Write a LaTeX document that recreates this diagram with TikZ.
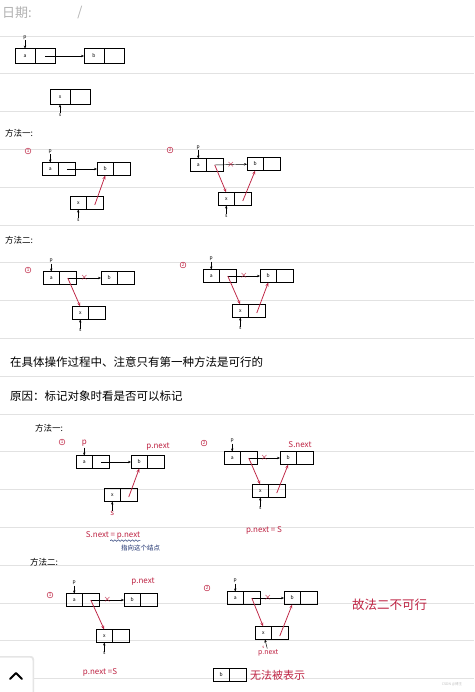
\documentclass[tikz,border=0pt]{standalone}
\usepackage{fontspec}
\setmainfont{Noto Sans CJK SC}
\usetikzlibrary{positioning,arrows.meta,decorations.pathmorphing}

\definecolor{ink}{RGB}{190,34,66}
\definecolor{blueink}{RGB}{28,48,110}
\definecolor{rulegray}{RGB}{226,226,226}

\tikzset{
	cell/.style={draw,line width=0.6pt,minimum width=16.5pt,minimum height=13pt,inner sep=0pt,outer sep=0pt,font=\fontsize{5}{5}\selectfont},
	bigcell/.style={cell,minimum width=20pt,minimum height=15pt},
	ptr/.style={font=\fontsize{5}{5}\selectfont,inner sep=0.5pt},
	link/.style={-{Stealth[length=3pt,width=2.4pt]},line width=0.45pt},
	redlink/.style={-{Stealth[length=4pt,width=3pt]},ink,line width=0.75pt},
	cross/.style={ink,font=\fontsize{7.5}{7.5}\selectfont,inner sep=0pt},
	num/.style={ink,circle,draw,line width=0.5pt,inner sep=0.6pt,font=\fontsize{4.5}{4.5}\selectfont},
	title/.style={anchor=west,inner sep=0pt,font=\fontsize{8.5}{9}\selectfont},
	note/.style={anchor=west,inner sep=0pt,font=\fontsize{11.5}{12}\selectfont},
	rednote/.style={note,ink},
	redlab/.style={ink,inner sep=0pt,font=\fontsize{8}{8}\selectfont},
	bluelab/.style={blueink,inner sep=0pt,font=\fontsize{6.5}{7}\selectfont},
	head/.style={gray!60,inner sep=0pt,font=\fontsize{13}{13}\selectfont}
}

\newcommand{\lbox}[5][cell]{
	\node[#1,anchor=west] (#2) at (#3,#4) {#5};
	\node[#1,right=0pt of #2] (#2n) {};
}
\newcommand{\ptrup}[4][]{
	\node[ptr,#1,above=8pt of #2] (#3) {#4};
	\draw[link] (#3) -- (#2);
}
\newcommand{\ptrdown}[4][]{
	\node[ptr,#1,below=9pt of #2] (#3) {#4};
	\draw[link] (#3) -- (#2);
}

\begin{document}
\begin{tikzpicture}[x=1pt,y=-1pt]
\useasboundingbox (0,0) rectangle (474,692);
\fill[white] (0,0) rectangle (474,692);

\foreach \i in {0,...,17}{
	\pgfmathsetmacro{\ry}{36+37.8*\i}
	\draw[rulegray,line width=0.8pt] (0,\ry) -- (474,\ry);
}
\node[head,anchor=west] (date) at (2,13) {日期:};
\node[head] (slash) at (80,13) {/};

\lbox[bigcell]{a1}{15}{56}{a}
\lbox[bigcell]{b1}{84}{56}{b}
\lbox[bigcell]{x1}{50}{97}{x}
\ptrup{a1}{p1}{p}
\ptrdown{x1}{s1}{s}
\draw[link] (a1n.center) -- (b1);

% fang fa yi
\node[title] (m1) at (5,133) {方法一:};
\node[num] (n1) at (28,151) {1};
\lbox{a2}{42}{169}{a}
\lbox{b2}{97}{169}{b}
\lbox{x2}{70}{203}{x}
\ptrup{a2}{p2}{p}
\ptrdown{x2}{s2}{s}
\draw[link] (a2n.center) -- (b2);
\draw[redlink] ([yshift=-2pt]x2n.center) -- (b2.south);

\node[num] (n2) at (170,150) {2};
\lbox{a3}{190}{165}{a}
\lbox{b3}{247}{164}{b}
\lbox{x3}{218}{199}{x}
\ptrup{a3}{p3}{p}
\ptrdown{x3}{s3}{s}
\draw[link] (a3n.center) -- node[cross] (c3) {×} (b3);
\draw[redlink] (a3n.center) -- (x3.north);
\draw[redlink] ([yshift=-2pt]x3n.center) -- (b3.south);

% fang fa er
\node[title] (m2) at (5,240) {方法二:};
\node[num] (n3) at (28,270) {1};
\lbox{a4}{43}{278}{a}
\lbox{b4}{101}{278}{b}
\lbox{x4}{72}{313}{x}
\ptrup{a4}{p4}{p}
\ptrdown{x4}{s4}{s}
\draw[link] (a4n.center) -- node[cross] (c4) {×} (b4);
\draw[redlink] (a4n.center) -- (x4.north);

\node[num] (n4) at (183,265) {2};
\lbox{a5}{203}{276}{a}
\lbox{b5}{260}{276}{b}
\lbox{x5}{232}{311}{x}
\ptrup{a5}{p5}{p}
\ptrdown{x5}{s5}{s}
\draw[link] (a5n.center) -- node[cross] (c5) {×} (b5);
\draw[redlink] (a5n.center) -- (x5.north);
\draw[redlink] ([yshift=-2pt]x5n.center) -- (b5.south);

\node[note] (t1) at (10,362) {在具体操作过程中、注意只有第一种方法是可行的};
\node[note] (t2) at (10,396) {原因：标记对象时看是否可以标记};

% second round
\node[title] (m3) at (35,428) {方法一:};
\node[num] (n5) at (62,442) {1};
\lbox{a6}{76}{462}{a}
\lbox{b6}{131}{462}{b}
\lbox{x6}{104}{495}{x}
\ptrup[ink,font=\fontsize{8}{8}\selectfont]{a6}{p6}{p}
\ptrdown[ink,font=\fontsize{8}{8}\selectfont]{x6}{s6}{s}
\node[redlab] (l6) at (158,447) {p.next};
\draw[link] (a6n.center) -- (b6);
\draw[redlink] ([yshift=-2pt]x6n.center) -- (b6.south);
\node[redlab] (e1) at (113,535) {S.next = p.next};
\draw[blueink,line width=0.5pt,decorate,decoration={snake,amplitude=0.8pt,segment length=3.5pt}]
	([xshift=-30pt,yshift=-1.5pt]e1.south east) -- ([yshift=-1.5pt]e1.south east);
\node[bluelab,anchor=west] (e2) at (121,548) {指向这个结点};

\node[num] (n6) at (204,443) {2};
\lbox{a7}{224}{458}{a}
\lbox{b7}{280}{458}{b}
\lbox{x7}{252}{491}{x}
\ptrup{a7}{p7}{p}
\ptrdown{x7}{s7}{s}
\node[redlab] (l7) at (300,445) {S.next};
\draw[link] (a7n.center) -- node[cross] (c7) {×} (b7);
\draw[redlink] (a7n.center) -- (x7.north);
\draw[redlink] ([yshift=-2pt]x7n.center) -- (b7.south);
\node[redlab] (e3) at (264,530) {p.next = S};

\node[title] (m4) at (30,562) {方法二:};
\node[num] (n7) at (50,595) {1};
\lbox{a8}{66}{600}{a}
\lbox{b8}{124}{600}{b}
\lbox{x8}{96}{636}{x}
\ptrup{a8}{p8}{p}
\ptrdown{x8}{s8}{s}
\node[redlab] (l8) at (143,582) {p.next};
\draw[link] (a8n.center) -- node[cross] (c8) {×} (b8);
\draw[redlink] (a8n.center) -- (x8.north);
\node[redlab] (e4) at (100,672) {p.next =S};

\node[num] (n8) at (207,588) {2};
\lbox{a9}{227}{598}{a}
\lbox{b9}{284}{598}{b}
\lbox{x9}{255}{633}{x}
\ptrup{a9}{p9}{p}
\ptrdown[ink,font=\fontsize{7}{7}\selectfont,xshift=5pt]{x9}{s9}{p.next}
\node[ink,inner sep=0pt,font=\fontsize{4}{4}\selectfont] (s9t) at ([xshift=-5pt,yshift=1pt]s9.north) {s};
\draw[link] (a9n.center) -- node[cross] (c9) {×} (b9);
\draw[redlink] (a9n.center) -- (x9.north);
\draw[redlink] ([yshift=-3pt]x9n.center) -- (b9.south);
\lbox{b10}{213}{675}{b}
\node[rednote,font=\fontsize{11}{11}\selectfont] (e5) at (250,675) {无法被表示};
\node[rednote,font=\fontsize{12.5}{13}\selectfont] (e6) at (352,605) {故法二不可行};

\fill[black!10,rounded corners=3pt] (-3,656) rectangle (34,695);
\fill[white,rounded corners=3pt] (-3,657.5) rectangle (32.5,695);
\draw[line width=2pt,line cap=round,line join=round] (10,679) -- (16,673) -- (22,679);
\node[gray!50,inner sep=0pt,font=\fontsize{3.5}{4}\selectfont] (wm) at (452,684) {CSDN @博主};
\end{tikzpicture}
\end{document}
